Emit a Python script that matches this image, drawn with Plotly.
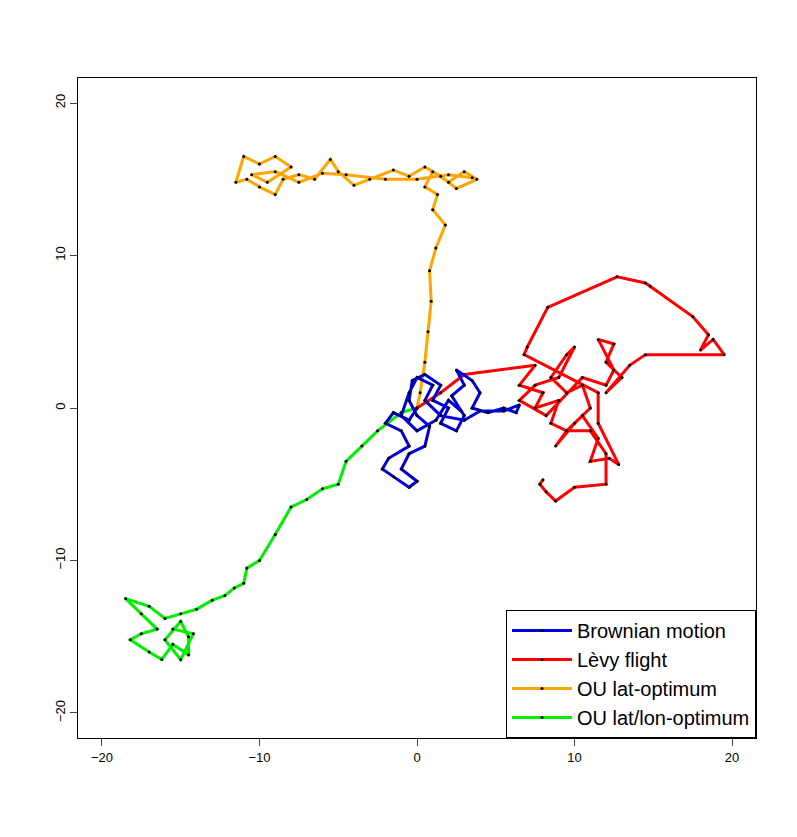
import plotly.graph_objects as go

bm_x=[0,-0.5,-1.5,-2,-1,-0.5,-1.8,-2.2,-1.5,-0.5,0,-1,-0.5,0.5,0.8,0,-0.5,-0.3,0.5,1.5,1,2,1.5,2.5,3,2.2,3,2.5,3.5,4,3.5,4.5,5.5,6.3,6.5,5.5,4,3,1.5,0.5,1,0,-0.5,-1,0,1.2,2,2.8]
bm_y=[0,-0.8,-0.3,-1,-1.5,-2.5,-3.3,-4,-4.5,-5.2,-4.8,-4,-3,-2.5,-1.2,-0.5,0.5,1.8,2.2,1.5,0.5,0,-1,-1.5,-0.5,0.8,1.5,2.5,1.8,1,0,-0.3,0,-0.3,0.2,-0.2,-0.2,-0.8,-0.5,0.5,1.5,2,1,-0.5,-1.5,-0.8,0.5,-0.2]
lv_x=[0,1.5,3,7.5,6.5,8,7.5,9,8.5,9.5,8.8,10,11,10.5,9.5,8.5,9.5,10,9,7.5,6.5,8.2,10.5,12,12.5,11.5,12.5,12,13,12,13.5,14.5,19.5,18.8,18,18.5,17.5,14.8,14.5,12.7,8.3,7,6.8,11.5,11.5,12.8,12.2,11,11.5,10.5,9.5,11,12,12,10,8.8,8.2,7.8,8]
lv_y=[0,1,2.2,2.8,1.5,1,0,0.5,-1,-1.5,-2.5,-1,0,1.5,1,2,3.5,4,2,1.5,0.5,-0.5,2,1.5,2.5,4.5,4.2,3,2,1,2.8,3.5,3.5,4.5,3.8,4.8,6,8,8.2,8.6,6.6,4,3.5,1,-1,-3.7,-3.3,-3.5,-2,-0.5,-1.5,-1.5,-3,-5,-5.2,-6.1,-5.5,-5,-4.7]
ou1_x=[0,0.2,0.5,0.7,0.9,0.8,1.2,1.8,1,1.3,0.5,1,2,3,3.8,2.5,1.5,0.5,-0.5,-1.5,-3,-4,-5,-5.5,-6.5,-7.5,-8.5,-9,-10,-10.8,-11.5,-11,-10,-9,-8,-9.5,-10.5,-9,-7.5,-6,-4.5,-2,0,2,3.5]
ou1_y=[0,1,3,5,7,9,10.5,12,13,14,14.5,15.5,14.8,15.5,15,14.4,15.2,15.8,15.2,15.6,15,14.6,15.5,16.3,15,15.3,15,14,14.5,15,14.8,16.5,16,16.5,15.8,14.8,15.3,15.5,14.8,15.4,15.3,15,15,15.3,15.1]
ou2_x=[0,-1,-2.5,-3.5,-4.5,-5,-6,-7,-8,-9,-10,-10.8,-11,-11.6,-12.2,-13,-14,-15,-16,-17,-18.5,-17.5,-16.5,-17.5,-18.2,-17,-16.2,-15.5,-14.5,-14.5,-15,-16,-15,-14.2,-15.5]
ou2_y=[0,-0.3,-1.5,-2.5,-3.5,-5,-5.3,-6,-6.5,-8.3,-10,-10.5,-11.5,-11.8,-12.3,-12.6,-13.2,-13.5,-13.8,-13,-12.5,-13.5,-14.5,-14.8,-15.2,-16,-16.5,-15.5,-16.2,-15,-14,-15.2,-16.5,-14.8,-14.5]

fig=go.Figure()
for name,x,y,c in [("OU lat/lon-optimum",ou2_x,ou2_y,"#00ee00"),("OU lat-optimum",ou1_x,ou1_y,"orange"),
                   ("Lèvy flight",lv_x,lv_y,"red"),("Brownian motion",bm_x,bm_y,"#0000dd")]:
    fig.add_trace(go.Scatter(x=x,y=y,mode="lines+markers",name=name,line=dict(color=c,width=3),
                             marker=dict(color="black",size=3)))
ax=dict(showgrid=False,zeroline=False,ticks="outside",ticklen=7,showline=True,linecolor="black",mirror=True,
        tickfont=dict(size=13,color="black"),tickvals=[-20,-10,0,10,20])
fig.update_layout(width=797,height=837,plot_bgcolor="white",paper_bgcolor="white",
    margin=dict(l=70,r=49,t=70,b=107),font=dict(family="Liberation Sans",color="black"),
    xaxis=dict(range=[-21.52,21.52],**ax),yaxis=dict(range=[-21.64,21.64],tickangle=-90,**ax),
    legend=dict(x=1,y=0,xanchor="right",yanchor="bottom",bordercolor="black",borderwidth=1,
                font=dict(size=20,color="black"),traceorder="reversed",itemwidth=60))
fig.write_html("out.html")
